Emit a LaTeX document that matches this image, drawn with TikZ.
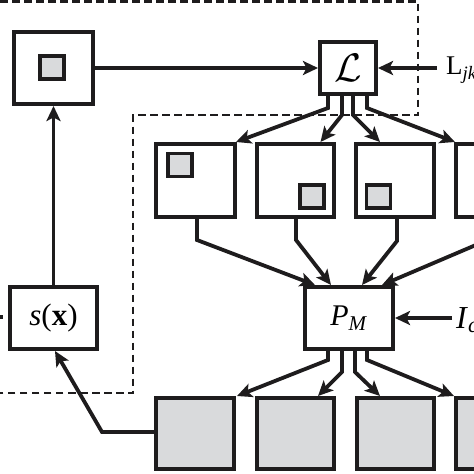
\documentclass[tikz,border=0pt]{standalone}
\usepackage{fontspec}
\usepackage{graphicx}
\setmainfont{Liberation Serif}
\usetikzlibrary{arrows.meta,calc}
\definecolor{ink}{HTML}{1E1C1D}
\definecolor{cell}{HTML}{D9DADC}
\tikzset{
  box/.style={draw=ink, line width=4pt, line join=miter, inner sep=0pt, fill=white},
  cellbox/.style={box, fill=cell},
  mini/.style={draw=ink, line width=3.6pt, line join=miter, inner sep=0pt, fill=cell,
    minimum width=24pt, minimum height=23pt},
  arr/.style={draw=ink, line width=3.8pt, line join=miter,
    -{Stealth[length=15pt,width=14pt,inset=3.5pt]}},
  ln/.style={draw=ink, line width=3.2pt, line join=miter},
  frameline/.style={draw=ink, line width=2.2pt, dash pattern=on 7.5pt off 4.5pt}
}
\begin{document}
\begin{tikzpicture}[x=1pt,y=-1pt]
\useasboundingbox (0,0) rectangle (474,474);
\clip (0,0) rectangle (474,474);
\fill[white] (0,0) rectangle (474,474);

% dashed frame
\draw[frameline] (0,1.5) -- (418,1.5) -- (418,115) -- (133,115) -- (133,393) -- (0,393);

% nodes
\node[box, minimum width=79pt, minimum height=72pt] (tl) at (53.5,68) {};
\node[mini] (tli) at (52,67.5) {};
\node[box, minimum width=56pt, minimum height=52pt, font=\fontsize{24}{24}\selectfont] (L) at (348,68) {\scalebox{1.6}{$\mathcal{L}$}};

\node[box, minimum width=79pt, minimum height=73pt] (m1) at (195.5,180.5) {};
\node[box, minimum width=77pt, minimum height=73pt] (m2) at (295.5,180.5) {};
\node[box, minimum width=78pt, minimum height=73pt] (m3) at (395,180.5) {};
\node[box, minimum width=79pt, minimum height=73pt] (m4) at (495.5,180.5) {};
\node[mini] (m1i) at (180,165) {};
\node[mini] (m2i) at (312,196.5) {};
\node[mini] (m3i) at (378.5,196.5) {};

\node[box, minimum width=88pt, minimum height=62pt, font=\fontsize{30}{30}\selectfont] (PM) at (349,318) {\textit{P}\textsubscript{\textit{M}}};
\node[box, minimum width=87pt, minimum height=62pt, font=\fontsize{31}{31}\selectfont] (sx) at (53.5,318) {\textit{s}(\textbf{x})};

\node[cellbox, minimum width=78pt, minimum height=71pt] (b1) at (195,433.5) {};
\node[cellbox, minimum width=77pt, minimum height=71pt] (b2) at (295.5,433.5) {};
\node[cellbox, minimum width=77pt, minimum height=71pt] (b3) at (395.5,433.5) {};
\node[cellbox, minimum width=78pt, minimum height=71pt] (b4) at (495,433.5) {};

% external labels
\node[anchor=west, inner sep=0pt, font=\fontsize{27}{27}\selectfont] (Lj) at (446,70) {L\textsubscript{\textit{jk}}};
\node[anchor=west, inner sep=0pt, font=\fontsize{32}{32}\selectfont] (Ic) at (456,320) {\textit{I}\textsubscript{\textit{c}}};
\coordinate (ljs) at (437,68);
\coordinate (ics) at (452,318);
\coordinate (lstub) at (0,317);
\coordinate (bend) at (102,432);

% connectors top
\draw[arr] (tl.east) -- (L.west);
\draw[arr] (ljs) -- (L.east);
\draw[arr] (sx.north -| tl.south) -- (tl.south);
\draw[ln] (lstub) -- ++(3,0);

% L to middle row
\draw[arr] ([xshift=-20pt]L.south) -- ++(0,12) -- ([xshift=-1pt]m1.north east);
\draw[arr] ([xshift=-6pt]L.south) -- ++(0,19) -- ([xshift=25pt]m2.north);
\draw[arr] ([xshift=5pt]L.south) -- ++(0,19) -- ([xshift=-15pt]m3.north);
\draw[arr] ([xshift=19pt]L.south) -- ++(0,12) -- ([xshift=1pt]m4.north west);

% middle row to PM
\draw[arr] ([xshift=1.5pt]m1.south) -- ++(0,21) -- ([xshift=-34pt]PM.north);
\draw[arr] ([xshift=0.5pt]m2.south) -- ++(0,21) -- ([xshift=-18pt]PM.north);
\draw[arr] ([xshift=2pt]m3.south) -- ++(0,22) -- ([xshift=13pt]PM.north);
\draw[arr] ([xshift=1.5pt]m4.south) -- ++(0,17) -- ([xshift=33pt]PM.north);

\draw[arr] (ics) -- (PM.east);

% PM to bottom row
\draw[arr] ([xshift=-21pt]PM.south) -- ++(0,9) -- ([xshift=1pt]b1.north east);
\draw[arr] ([xshift=-7pt]PM.south) -- ++(0,21) -- ([xshift=22.5pt]b2.north);
\draw[arr] ([xshift=6pt]PM.south) -- ++(0,21) -- ([xshift=-15.5pt]b3.north);
\draw[arr] ([xshift=18pt]PM.south) -- ++(0,9) -- ([xshift=0pt]b4.north west);

% feedback to s(x)
\draw[arr] (b1.west |- bend) -- (bend) -- ([xshift=1.5pt]sx.south);
\end{tikzpicture}
\end{document}
